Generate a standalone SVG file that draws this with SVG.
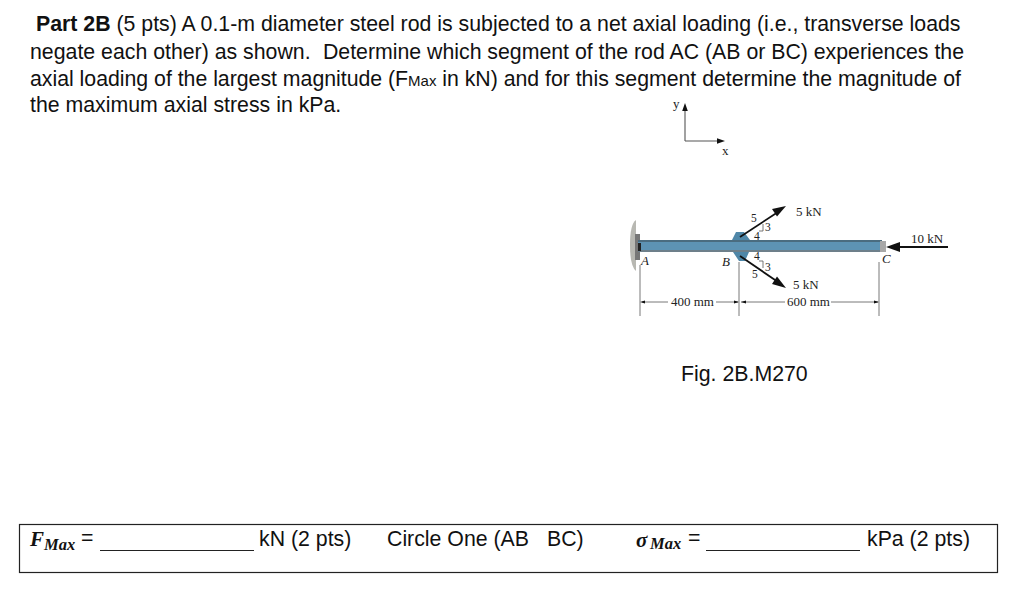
<svg xmlns="http://www.w3.org/2000/svg" width="1024" height="597" viewBox="0 0 1024 597">
<style>
.a{font-family:"Liberation Sans",Arial,sans-serif;font-size:21.3px;fill:#111}
.s{font-family:"Liberation Serif","Times New Roman",serif;font-size:13px;fill:#222}
.t{font-size:11.5px}
.i{font-style:italic}
.m{font-family:"Liberation Serif","Times New Roman",serif;font-weight:bold;font-style:italic;fill:#111}
.d{stroke:#555;stroke-width:.8;fill:none}
.k{stroke:#111;stroke-width:1.8;fill:none}
.f{fill:#111}
</style>
<rect width="1024" height="597" fill="#fff"/>
<g id="question">
<text class="a" x="36" y="31"><tspan font-weight="bold">Part 2B</tspan> (5 pts) A 0.1-m diameter steel rod is subjected to a net axial loading (i.e., transverse loads</text>
<text class="a" x="30" y="58.500">negate each other) as shown.</text>
<text class="a" x="323" y="58.500" textLength="641">Determine which segment of the rod AC (AB or BC) experiences the</text>
<text class="a" x="30" y="85.500" textLength="931">axial loading of the largest magnitude (F<tspan font-size="15">Max</tspan> in kN) and for this segment determine the magnitude of</text>
<text class="a" x="30" y="111.500">the maximum axial stress in kPa.</text>
</g>
<g id="axes">
<path d="M685 141V108M685 141H720" stroke="#555" stroke-width="1.100" fill="none"/>
<path class="f" d="M685 103l-2.800 8h5.600zM725 141l-8-2.800v5.600z"/>
<text class="s" x="673" y="108" font-size="10">y</text>
<text class="s" x="722" y="155" font-size="10">x</text>
</g>
<g id="wall">
<path d="M630 245Q630 224 636 220V271Q630 266 630 245Z" fill="#b8b8b2"/>
<rect x="635" y="234" width="5" height="26" fill="#777"/>
</g>
<g id="rod">
<rect x="638" y="240" width="244" height="12" fill="#5d93b4"/>
<rect x="638" y="240" width="244" height="2" fill="#4a6c80"/>
<rect x="638" y="250" width="244" height="2" fill="#6d7f8a"/>
<rect x="880" y="241" width="6" height="11" fill="#a8a8a8"/>
<rect x="638" y="243" width="3" height="8" fill="#222"/>
</g>
<g id="collar">
<path d="M732 240l4-8h8l6 8zM733 252h16l-4 9h-6z" fill="#4f87a8"/>
</g>
<g id="connectors">
<path class="k" d="M740 237L778 212"/>
<path class="f" d="M786 206l-14 3 5 7.500z"/>
<path class="k" d="M740 256L778 282"/>
<path class="f" d="M786 288l-9-11.500-5 7.500z"/>
<path class="k" d="M948 247H897"/>
<path class="f" d="M886 247l14-5v10z"/>
<path class="d" d="M640 265V316M739 262V316M879 262V316M763 224V231M759 231H763M759 261H763M763 261V268"/>
<path class="d" d="M642 302H668M716 302H738M741 302H785M831 302H878"/>
<path class="f" d="M640 302l5-1.500v3zM739 302l-5-1.500v3zM741 302l5-1.500v3zM879 302l-5-1.500v3z"/>
</g>
<g id="labels">
<text class="s" x="796" y="216">5 kN</text>
<text class="s" x="793" y="289">5 kN</text>
<text class="s" x="911" y="243">10 kN</text>
<text class="s" x="671" y="306">400 mm</text>
<text class="s" x="787" y="306">600 mm</text>
<text class="s i" x="641" y="265">A</text>
<text class="s i" x="722" y="266">B</text>
<text class="s i" x="882" y="263">C</text>
<text class="s t" x="751" y="222">5</text>
<text class="s t" x="765" y="231">3</text>
<text class="s t" x="754" y="240">4</text>
<text class="s t" x="754" y="260">4</text>
<text class="s t" x="765" y="271">3</text>
<text class="s t" x="752" y="278">5</text>
</g>
<text id="caption" class="a" x="681" y="381">Fig. 2B.M270</text>
<g id="answer">
<rect x="19.500" y="524.500" width="978" height="48" fill="none" stroke="#222" stroke-width="1.200"/>
<text class="m" x="30" y="546" font-size="21">F<tspan font-size="16.500" dy="4" x="44">Max</tspan></text>
<text class="a" x="81" y="545" font-size="18">=</text>
<path d="M100 550.500H254M706 550.500H860" stroke="#222" stroke-width="1.200"/>
<text class="a" x="259" y="546">kN (2 pts)</text>
<text class="a" x="387" y="546">Circle One (AB</text>
<text class="a" x="547" y="546">BC)</text>
<text class="m" x="636" y="547" font-size="21">σ<tspan font-size="16.500" dy="2" x="650">Max</tspan></text>
<text class="a" x="688" y="545" font-size="18">=</text>
<text class="a" x="867" y="546">kPa (2 pts)</text>
</g>
</svg>
